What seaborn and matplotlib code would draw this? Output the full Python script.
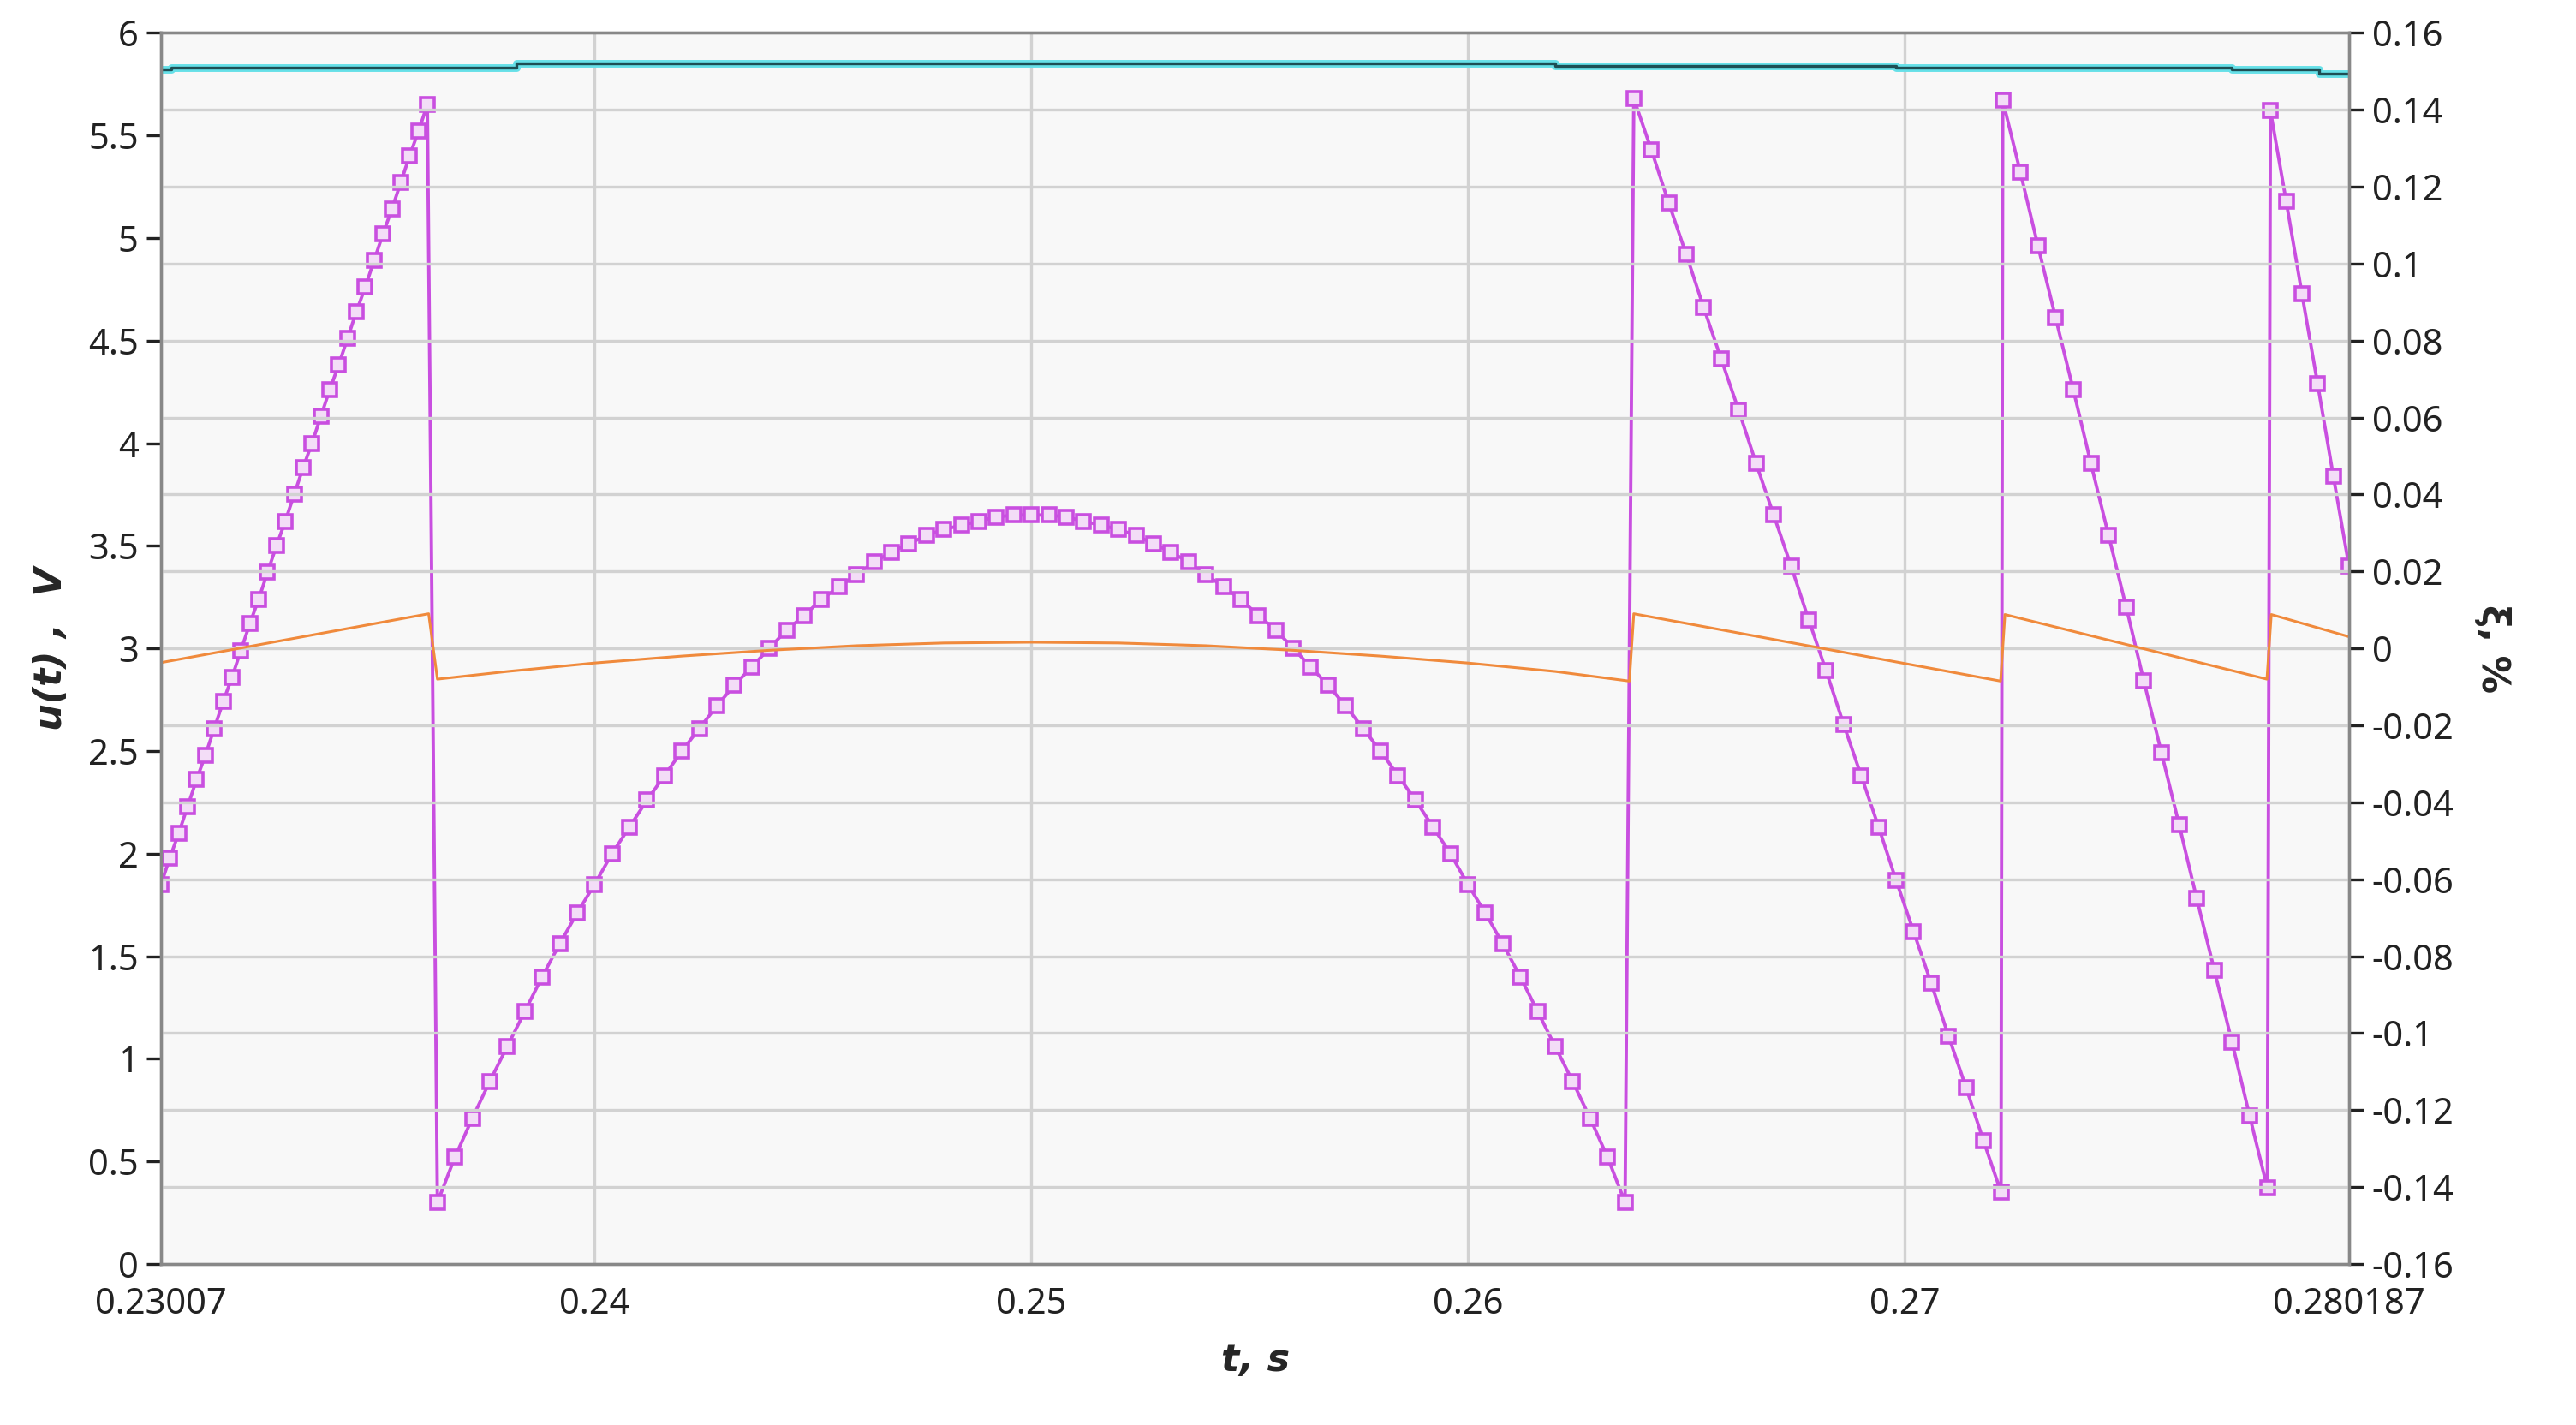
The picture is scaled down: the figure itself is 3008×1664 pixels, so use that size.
import numpy as np
import pandas as pd
import matplotlib
matplotlib.use("Agg")
import matplotlib.pyplot as plt
import seaborn as sns

# magenta u(t), V - segments of sampled values
seg1_t = (0.23007, 0.23617)
seg1_u = [1.85, 1.98, 2.10, 2.23, 2.36, 2.48, 2.61, 2.74, 2.86, 2.99, 3.12, 3.24, 3.37, 3.50, 3.62,
          3.75, 3.88, 4.00, 4.13, 4.26, 4.38, 4.51, 4.64, 4.76, 4.89, 5.02, 5.14, 5.27, 5.40, 5.52, 5.65]
half = [3.65, 3.65, 3.64, 3.62, 3.60, 3.58, 3.55, 3.51, 3.47, 3.42, 3.36, 3.30, 3.24, 3.16, 3.09, 3.00,
        2.91, 2.82, 2.72, 2.61, 2.50, 2.38, 2.26, 2.13, 2.00, 1.85, 1.71, 1.56, 1.40, 1.23, 1.06, 0.89,
        0.71, 0.52, 0.30]
seg2_t = (0.2364, 0.2636)
seg2_u = half[::-1] + half[1:]
seg3_t = (0.26380, 0.27221)
seg3_u = [5.68, 5.43, 5.17, 4.92, 4.66, 4.41, 4.16, 3.90, 3.65, 3.40, 3.14, 2.89, 2.63, 2.38, 2.13,
          1.87, 1.62, 1.37, 1.11, 0.86, 0.60, 0.35]
seg4_t = (0.27225, 0.27831)
seg4_u = [5.67, 5.32, 4.96, 4.61, 4.26, 3.90, 3.55, 3.20, 2.84, 2.49, 2.14, 1.78, 1.43, 1.08, 0.72, 0.37]
seg5_t = (0.27838, 0.28018)
seg5_u = [5.62, 5.18, 4.73, 4.29, 3.84, 3.40]

# orange error xi, %
xi_t = [0.23007, 0.2362, 0.2364, 0.238, 0.240, 0.242, 0.244, 0.246, 0.248, 0.250, 0.252, 0.254,
        0.256, 0.258, 0.260, 0.262, 0.2637, 0.2638, 0.2722, 0.2723, 0.2783, 0.2784, 0.28019]
xi_v = [-0.0037, 0.0090, -0.0080, -0.0060, -0.0038, -0.0020, -0.0005, 0.0007, 0.0014, 0.0016, 0.0014,
        0.0007, -0.0005, -0.0020, -0.0038, -0.0060, -0.0085, 0.0090, -0.0085, 0.0088, -0.0080, 0.0088, 0.0030]

# cyan top line
top_t = [0.23007, 0.2303, 0.2382, 0.2620, 0.2698, 0.2775, 0.2795, 0.28019]
top_u = [5.82, 5.83, 5.85, 5.84, 5.83, 5.82, 5.80, 5.80]

x_ticks = [0.23007, 0.24, 0.25, 0.26, 0.27, 0.280187]
x_labels = ["0.23007", "0.24", "0.25", "0.26", "0.27", "0.280187"]

segs = [(seg1_t, seg1_u), (seg2_t, seg2_u), (seg3_t, seg3_u), (seg4_t, seg4_u), (seg5_t, seg5_u)]
t_all, u_all = [], []
for (a, b), vals in segs:
    t_all.extend(np.linspace(a, b, len(vals)))
    u_all.extend(vals)
df_u = pd.DataFrame({"t": t_all, "u": u_all})
df_xi = pd.DataFrame({"t": xi_t, "xi": xi_v})
df_top = pd.DataFrame({"t": top_t, "u": top_u})

sns.set_style("white")
plt.rcParams["font.family"] = ["Noto Sans", "DejaVu Sans"]

fig = plt.figure(figsize=(15.04, 8.32), dpi=200)
ax = fig.add_axes([0.0625, 0.113, 0.8495, 0.864])
ax.set_facecolor("#f8f8f8")
ax2 = ax.twinx()

ax.set_xlim(0.23007, 0.280187)
ax.set_ylim(0, 6)
ax2.set_ylim(-0.16, 0.16)

# grid: vertical at x ticks, horizontal at right ticks
for xv in x_ticks[1:-1]:
    ax.axvline(xv, color="#d2d2d2", lw=1.2, zorder=0)
for yv in np.arange(-0.14, 0.15, 0.02):
    ax2.axhline(yv, color="#d2d2d2", lw=1.2, zorder=0)

sns.lineplot(data=df_top, x="t", y="u", ax=ax, color="#66e0e8", lw=3.2, drawstyle="steps-post",
             estimator=None, sort=False)
sns.lineplot(data=df_top, x="t", y="u", ax=ax, color="#1d4f55", lw=1.2, drawstyle="steps-post",
             estimator=None, sort=False)
sns.lineplot(data=df_u, x="t", y="u", ax=ax, color="#c94fe0", lw=1.4, marker="s", markersize=6,
             markerfacecolor="#f3ddf7", markeredgecolor="#c94fe0", markeredgewidth=1.3,
             estimator=None, sort=False, zorder=3)
sns.lineplot(data=df_xi, x="t", y="xi", ax=ax2, color="#f08a3c", lw=1.1, estimator=None, sort=False)

ax.set_xticks(x_ticks)
ax.set_xticklabels(x_labels)
ax.set_yticks(np.arange(0, 6.01, 0.5))
ax.set_yticklabels([f"{v:g}" for v in np.arange(0, 6.01, 0.5)])
r_ticks = np.round(np.arange(-0.16, 0.161, 0.02), 2)
ax2.set_yticks(r_ticks)
ax2.set_yticklabels(["0" if v == 0 else f"{v:g}" for v in r_ticks])

for a in (ax, ax2):
    a.tick_params(axis="both", direction="out", length=6, width=1.2, labelsize=15, colors="#222222")
    for s in a.spines.values():
        s.set_color("#888888")
        s.set_linewidth(1.2)

lab = dict(fontsize=16, fontweight="bold", family="DejaVu Sans")
ax.set_xlabel("t, s", fontstyle="italic", labelpad=8, **lab)
ax.set_ylabel("u(t) ,  V", fontstyle="italic", labelpad=8, **lab)
ax2.set_ylabel("ξ, %", rotation=-90, labelpad=24, **lab)

fig.savefig("out.png", dpi=200, facecolor="white")
